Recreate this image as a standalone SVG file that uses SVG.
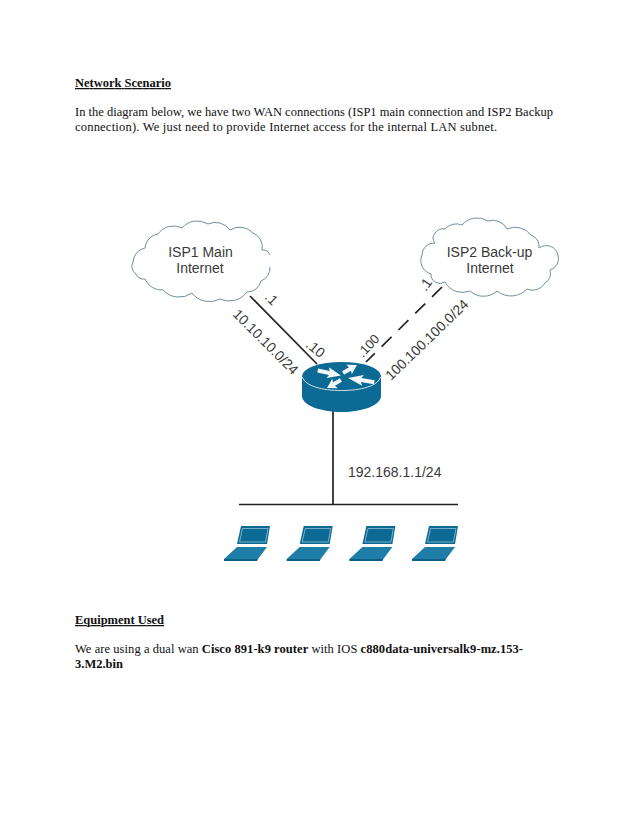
<svg xmlns="http://www.w3.org/2000/svg" width="638" height="826" viewBox="0 0 638 826">
<style>
.d{font-family:"Liberation Serif","Times New Roman",serif;font-size:12.5px;fill:#111}
.b{font-weight:bold}
.u{text-decoration:underline}
.l{font-family:"Liberation Sans",Arial,sans-serif;font-size:14px;fill:#3a3a3a}
.c{fill:#fff;stroke:#6f909e;stroke-width:1}
.w{stroke:#222;stroke-width:1.700;fill:none}
.blue{fill:#0d6a94}
.a{fill:#f2f7fa}
</style>
<defs>
<g id="laptop">
<path class="blue" d="M1 -2H30L27 16H-3Z"/>
<path fill="none" stroke="#8fc0d5" stroke-width="0.800" d="M2.500 0.500H28L25.500 14H-0.500Z"/>
<path fill="#1e7ea8" d="M-3 19H27L18 31H-16Z"/>
<path fill="#0b5f85" d="M-16 31H18L17 33H-16Z"/>
</g>
<path id="arrow-tip" d="M0 0L-8 -5.500L-7 -2H-14V2H-7L-8 5.500Z"/>
</defs>
<g id="page-text">
<text class="d b u" x="75" y="87" textLength="96">Network Scenario</text>
<text class="d" x="75" y="116" textLength="478" lengthAdjust="spacing">In the diagram below, we have two WAN connections (ISP1 main connection and ISP2 Backup</text>
<text class="d" x="75" y="131" textLength="422" lengthAdjust="spacing">connection). We just need to provide Internet access for the internal LAN subnet.</text>
<text class="d b u" x="75" y="624" textLength="89">Equipment Used</text>
<text class="d" x="75" y="653" textLength="448" lengthAdjust="spacing">We are using a dual wan <tspan class="b">Cisco 891-k9 router</tspan> with IOS <tspan class="b">c880data-universalk9-mz.153-</tspan></text>
<text class="d b" x="75" y="668">3.M2.bin</text>
</g>
<g id="connectors">
<line class="w" x1="250" y1="296" x2="317" y2="364"/>
<line class="w" x1="442" y1="287" x2="366" y2="362" stroke-dasharray="14 9.600"/>
<line class="w" x1="333" y1="411" x2="333" y2="504"/>
<line class="w" x1="239" y1="504.500" x2="458" y2="504.500"/>
</g>
<g id="isp1">
<path class="c" d="M270 255A8 8 0 0 0 262 250A15 15 0 0 0 253 233A18 18 0 0 0 230 230A18 18 0 0 0 208 224A20 20 0 0 0 182 228A19 19 0 0 0 158 234A15 15 0 0 0 145 248A15 15 0 0 0 133 262A9 9 0 0 0 136 274A8 8 0 0 0 145 279A18 18 0 0 0 163 290A22 22 0 0 0 192 293A22 22 0 0 0 220 299A22 22 0 0 0 247 292A14 14 0 0 0 261 281A14 14 0 0 0 270 267"/>
<text class="l" x="200.500" y="257" text-anchor="middle">ISP1 Main</text>
<text class="l" x="200" y="273" text-anchor="middle">Internet</text>
</g>
<g id="isp2">
<path class="c" d="M422 255A12 12 0 0 1 435 243A8 8 0 0 1 435 233A10 10 0 0 1 445 229A15 15 0 0 1 462 225A20 20 0 0 1 488 221A16 16 0 0 1 507 229A20 20 0 0 1 531 235A12 12 0 0 1 539 248A12 12 0 0 1 558 255A12 12 0 0 1 550 270A11 11 0 0 1 545 283A14 14 0 0 1 527 289A22 22 0 0 1 497 291A20 20 0 0 1 470 291A20 20 0 0 1 445 282A9 9 0 0 1 431 274A14 14 0 0 1 422 255Z"/>
<text class="l" x="489.500" y="257" text-anchor="middle">ISP2 Back-up</text>
<text class="l" x="490" y="273" text-anchor="middle">Internet</text>
</g>
<g id="link-labels">
<text class="l" transform="translate(264 298) rotate(45)">.1</text>
<text class="l" transform="translate(305 346) rotate(40)">.10</text>
<text class="l" transform="translate(232 315) rotate(45)">10.10.10.0/24</text>
<text class="l" transform="translate(426 292) rotate(-55)">.1</text>
<text class="l" transform="translate(363 358) rotate(-47)" style="font-size:13px">.100</text>
<text class="l" transform="translate(391 381) rotate(-44)">100.100.100.0/24</text>
<text class="l" x="348" y="476.500">192.168.1.1/24</text>
</g>
<g id="router">
<path class="blue" d="M302 376V396C302 405 320 412 341.500 412S381 405 381 396V376Z"/>
<ellipse class="blue" cx="341.500" cy="376" rx="39.500" ry="14"/>
<path fill="none" stroke="#cfe3ec" stroke-width="1" d="M302.500 377C305 386 322 390.500 341.500 390.500S378 386 380.500 377"/>
<use href="#arrow-tip" class="a" transform="translate(341 375.500) rotate(12) scale(1.700 1)"/>
<use href="#arrow-tip" class="a" transform="translate(357 365) rotate(-30) scale(1.150 1)"/>
<use href="#arrow-tip" class="a" transform="translate(327 388) rotate(150) scale(1.150 1)"/>
<use href="#arrow-tip" class="a" transform="translate(348 378) rotate(189) scale(1.900 1)"/>
</g>
<g id="laptop1"><use href="#laptop" transform="translate(240 528)"/></g>
<g id="laptop2"><use href="#laptop" transform="translate(302.700 528)"/></g>
<g id="laptop3"><use href="#laptop" transform="translate(365.400 528)"/></g>
<g id="laptop4"><use href="#laptop" transform="translate(428 528)"/></g>
</svg>
